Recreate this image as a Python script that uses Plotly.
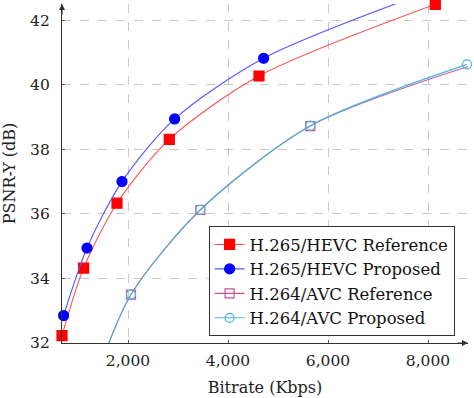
import plotly.graph_objects as go

# Data (bitrate in Kbps, PSNR-Y in dB)
hevc_ref_x = [680, 1112, 1780, 2826, 4620, 8146]
hevc_ref_y = [32.23, 34.32, 36.33, 38.31, 40.27, 42.49]
hevc_prop_x = [712, 1180, 1880, 2932, 4713, 8250]
hevc_prop_y = [32.85, 34.94, 37.00, 38.94, 40.82, 43.02]
avc_ref_x = [1350, 2060, 3446, 5646, 8832]
avc_ref_y = [30.90, 33.50, 36.12, 38.72, 40.58]
avc_prop_x = [1350, 2060, 3446, 5646, 8780]
avc_prop_y = [30.90, 33.50, 36.13, 38.73, 40.63]

x_ticks = [2000, 4000, 6000, 8000]
x_tick_labels = ["2,000", "4,000", "6,000", "8,000"]
y_ticks = [32, 34, 36, 38, 40, 42]

X_RANGE = [680, 8800]
Y_RANGE = [32, 42.5]

FONT = "DejaVu Serif, Liberation Serif, serif"

fig = go.Figure()
series = [
    ("H.265/HEVC Reference", hevc_ref_x, hevc_ref_y, "#ff5050", "#ff0000", "square", 10),
    ("H.265/HEVC Proposed", hevc_prop_x, hevc_prop_y, "#5555ff", "#0000ff", "circle", 10),
    ("H.264/AVC Reference", avc_ref_x, avc_ref_y, "#c8509a", "#c8509a", "square-open", 9),
    ("H.264/AVC Proposed", avc_prop_x, avc_prop_y, "#48b8d8", "#48b8d8", "circle-open", 9),
]
for i, (name, xs, ys, lc, mc, sym, ms) in enumerate(series):
    g = "g%d" % i
    line = dict(color=lc, width=1.1, shape="spline", smoothing=0.8)
    marker = dict(symbol=sym, size=ms, color=mc, line=dict(color=mc, width=1.2))
    # smooth line through all points (clipped to the plot area)
    fig.add_trace(go.Scatter(x=xs, y=ys, mode="lines", line=line,
                             legendgroup=g, showlegend=False, hoverinfo="skip"))
    # markers that fall inside the y range, not clipped at the edges
    vx = [x for x, y in zip(xs, ys) if Y_RANGE[0] <= y <= Y_RANGE[1]]
    vy = [y for y in ys if Y_RANGE[0] <= y <= Y_RANGE[1]]
    fig.add_trace(go.Scatter(x=vx, y=vy, mode="markers", marker=marker,
                             legendgroup=g, showlegend=False, cliponaxis=False))
    # legend entry
    fig.add_trace(go.Scatter(x=[None], y=[None], mode="lines+markers", name=name,
                             line=dict(color=lc, width=1.1), marker=marker,
                             legendgroup=g))

fig.update_layout(
    width=474, height=398,
    margin=dict(l=62, r=6, t=4, b=55),
    paper_bgcolor="white", plot_bgcolor="white",
    font=dict(family=FONT, size=15.5, color="#222"),
    showlegend=True,
    legend=dict(
        x=0.967, y=0.02, xanchor="right", yanchor="bottom",
        bgcolor="white", bordercolor="#333", borderwidth=1,
        font=dict(family=FONT, size=16.5, color="#111"),
        tracegroupgap=0, itemwidth=30,
    ),
    xaxis=dict(
        range=X_RANGE, tickvals=x_ticks, ticktext=x_tick_labels,
        showgrid=True, gridcolor="#c8c8c8", griddash="dash", gridwidth=1,
        showline=True, linecolor="#333", linewidth=1.2,
        ticks="inside", ticklen=3, tickcolor="#555",
        zeroline=False, automargin=False, ticklabelstandoff=3,
        title=dict(text="Bitrate (Kbps)", font=dict(family=FONT, size=16), standoff=13),
    ),
    yaxis=dict(
        range=Y_RANGE, tickvals=y_ticks,
        showgrid=True, gridcolor="#c8c8c8", griddash="dash", gridwidth=1,
        showline=True, linecolor="#333", linewidth=1.2,
        ticks="inside", ticklen=3, tickcolor="#555",
        zeroline=False, ticklabelstandoff=8, automargin=False,
        title=dict(text="PSNR-Y (dB)", font=dict(family=FONT, size=16), standoff=10),
    ),
)

# axis arrow heads
fig.add_annotation(x=1.0, y=0, xref="paper", yref="paper", ax=-12, ay=0,
                   showarrow=True, arrowhead=2, arrowsize=1, arrowwidth=1.2,
                   arrowcolor="#333", text="")
fig.add_annotation(x=0, y=1.0, xref="paper", yref="paper", ax=0, ay=12,
                   showarrow=True, arrowhead=2, arrowsize=1, arrowwidth=1.2,
                   arrowcolor="#333", text="")

fig.write_html(
    "out.html",
    config={"displayModeBar": False},
    post_script="document.body.style.margin='0';document.body.style.padding='0';",
)
